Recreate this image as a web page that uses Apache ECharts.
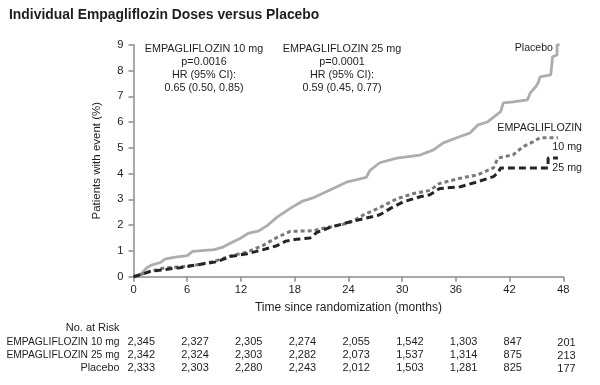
<!DOCTYPE html>
<html><head><meta charset="utf-8">
<script src="https://cdn.jsdelivr.net/npm/echarts@6/dist/echarts.min.js"></script>
<style>html,body{margin:0;padding:0;background:#fff}#c{width:600px;height:385px}</style>
</head><body><div id="c"></div>
<script>
const titleText = 'Individual Empagliflozin Doses versus Placebo';
const xTicks = [0, 6, 12, 18, 24, 30, 36, 42, 48];
const yTicks = [0, 1, 2, 3, 4, 5, 6, 7, 8, 9];
// [month, % with event]
const placebo = [[0,0],[0.8,0.1],[1.5,0.35],[2.0,0.45],[3.0,0.55],[3.5,0.68],[4.5,0.75],[6.0,0.82],[6.6,0.98],[9.0,1.05],[10.0,1.15],[10.8,1.3],[12.0,1.5],[12.8,1.68],[14.0,1.78],[15.0,2.0],[16.0,2.3],[17.5,2.65],[18.8,2.92],[20.2,3.08],[22.0,3.37],[23.9,3.68],[26.0,3.85],[26.4,4.12],[27.5,4.42],[29.4,4.6],[32.0,4.72],[33.5,4.92],[34.6,5.19],[36.1,5.39],[37.6,5.58],[38.5,5.89],[39.5,6.0],[41.0,6.4],[41.3,6.74],[42.4,6.78],[44.0,6.86],[44.3,7.13],[44.9,7.36],[45.2,7.52],[45.4,7.75],[46.6,7.83],[46.8,8.53],[47.3,8.6],[47.3,9.0],[47.6,9.0]];
const empa10 = [[0,0],[0.8,0.08],[1.8,0.2],[3.3,0.33],[5.5,0.39],[7.1,0.46],[8.9,0.58],[10.8,0.8],[12.7,0.96],[14.5,1.22],[16.0,1.52],[17.5,1.76],[20.1,1.78],[21.2,1.88],[23.1,2.0],[24.5,2.15],[25.7,2.4],[27.5,2.68],[29.4,3.02],[31.2,3.22],[33.1,3.35],[34.2,3.62],[36.5,3.82],[38.4,3.95],[40.2,4.22],[40.7,4.6],[42.4,4.73],[43.5,5.04],[44.6,5.23],[45.4,5.39],[47.4,5.39]];
const empa25 = [[0,0],[0.8,0.08],[1.8,0.2],[3.3,0.27],[5.2,0.35],[7.1,0.46],[9.3,0.58],[10.8,0.78],[12.7,0.89],[14.5,1.05],[16.0,1.2],[17.0,1.38],[18.2,1.45],[19.7,1.5],[20.5,1.72],[22.0,1.92],[23.9,2.1],[25.7,2.25],[27.5,2.4],[28.7,2.65],[30.1,2.9],[32.0,3.1],[33.1,3.18],[34.2,3.42],[36.5,3.49],[38.4,3.68],[40.2,3.88],[40.7,4.03],[41.0,4.22],[46.3,4.22],[46.3,4.6],[47.4,4.6]];
const riskHeader = 'No. at Risk';
const riskLabels = ['EMPAGLIFLOZIN 10 mg', 'EMPAGLIFLOZIN 25 mg', 'Placebo'];
const risk10 = ['2,345','2,327','2,305','2,274','2,055','1,542','1,303','847','201'];
const risk25 = ['2,342','2,324','2,303','2,282','2,073','1,537','1,314','875','213'];
const riskPbo = ['2,333','2,303','2,280','2,243','2,012','1,503','1,281','825','177'];
const hrNotes = [
  'EMPAGLIFLOZIN 10 mg\np=0.0016\nHR (95% CI):\n0.65 (0.50, 0.85)',
  'EMPAGLIFLOZIN 25 mg\np=0.0001\nHR (95% CI):\n0.59 (0.45, 0.77)'
];

const FF = '"Liberation Sans", Arial, sans-serif';
const TXT = '#1e1e1e';
const AX = '#8c8c8c';
const chart = echarts.init(document.getElementById('c'), null, {renderer: 'canvas'});

chart.setOption({
  animation: false,
  backgroundColor: '#fff',
  textStyle: {fontFamily: FF},
  grid: {left: 133.5, right: 36.7, top: 44.7, bottom: 108.3, containLabel: false},
  xAxis: {
    type: 'value', min: xTicks[0], max: xTicks[xTicks.length - 1], interval: 6,
    axisLine: {show: true, onZero: false, lineStyle: {color: AX, width: 1.5}},
    axisTick: {show: true, length: 5, lineStyle: {color: AX, width: 1.5}},
    axisLabel: {color: TXT, fontSize: 11.2, margin: 8, fontFamily: FF, showMinLabel: true, showMaxLabel: true, hideOverlap: false},
    splitLine: {show: false},
    name: 'Time since randomization (months)', nameLocation: 'middle', nameGap: 25,
    nameTextStyle: {fontSize: 12, color: TXT, fontFamily: FF}
  },
  yAxis: {
    type: 'value', min: yTicks[0], max: yTicks[yTicks.length - 1], interval: 1,
    axisLine: {show: true, onZero: false, lineStyle: {color: AX, width: 1.5}},
    axisTick: {show: true, length: 5, lineStyle: {color: AX, width: 1.5}},
    axisLabel: {color: TXT, fontSize: 11.2, margin: 10, fontFamily: FF, showMinLabel: true, showMaxLabel: true, hideOverlap: false},
    splitLine: {show: false},
    name: 'Patients with event (%)', nameLocation: 'middle', nameGap: 31,
    nameTextStyle: {fontSize: 11.5, color: TXT, fontFamily: FF}
  },
  series: [
    {name: 'Placebo', type: 'line', data: placebo, symbol: 'none', z: 2,
     lineStyle: {color: '#b0aca8', width: 2.8}},
    {name: 'EMPAGLIFLOZIN 10 mg', type: 'line', data: empa10, symbol: 'none', z: 3,
     lineStyle: {color: '#7a7a7a', width: 3, type: [4, 3]}},
    {name: 'EMPAGLIFLOZIN 25 mg', type: 'line', data: empa25, symbol: 'none', z: 4,
     lineStyle: {color: '#252525', width: 3, type: [7, 4]}}
  ]
});

const g = [];
const T = (x, y, text, opt) => g.push({type: 'text', x: x, y: y, silent: true,
  style: Object.assign({text: text, fill: TXT, font: (opt && opt.font) || ('11px ' + FF),
    textAlign: (opt && opt.align) || 'left', textVerticalAlign: 'middle'}, opt && opt.style)});

// title
T(9, 15, titleText, {font: 'bold 13.9px ' + FF});
// HR annotations
g.push({type: 'text', x: 204, y: 42.5, silent: true, style: {text: hrNotes[0], fill: TXT, font: '10.8px ' + FF, textAlign: 'center', textVerticalAlign: 'top', lineHeight: 12.9}});
g.push({type: 'text', x: 342, y: 42.5, silent: true, style: {text: hrNotes[1], fill: TXT, font: '10.8px ' + FF, textAlign: 'center', textVerticalAlign: 'top', lineHeight: 12.9}});
// line end labels
T(553, 48, 'Placebo', {align: 'right', font: '10.6px ' + FF});
T(582, 128, 'EMPAGLIFLOZIN', {align: 'right', font: '10.7px ' + FF});
T(582, 147, '10 mg', {align: 'right', font: '10.7px ' + FF});
T(582, 168, '25 mg', {align: 'right', font: '10.7px ' + FF});
// risk table
T(119.5, 328.3, riskHeader, {align: 'right', font: '11px ' + FF});
const rowsY = [341.7, 355, 368.3];
const rows = [risk10, risk25, riskPbo];
riskLabels.forEach((lab, r) => T(119.5, rowsY[r], lab, {align: 'right', font: (r < 2 ? '10.3px ' : '10.8px ') + FF}));
rows.forEach((vals, r) => {
  vals.forEach((v, i) => {
    const px = chart.convertToPixel({xAxisIndex: 0}, xTicks[i]);
    T(px - 6, rowsY[r] + (i === vals.length - 1 ? 1 : 0), v, {font: '11px ' + FF});
  });
});
chart.setOption({graphic: g});
</script></body></html>
